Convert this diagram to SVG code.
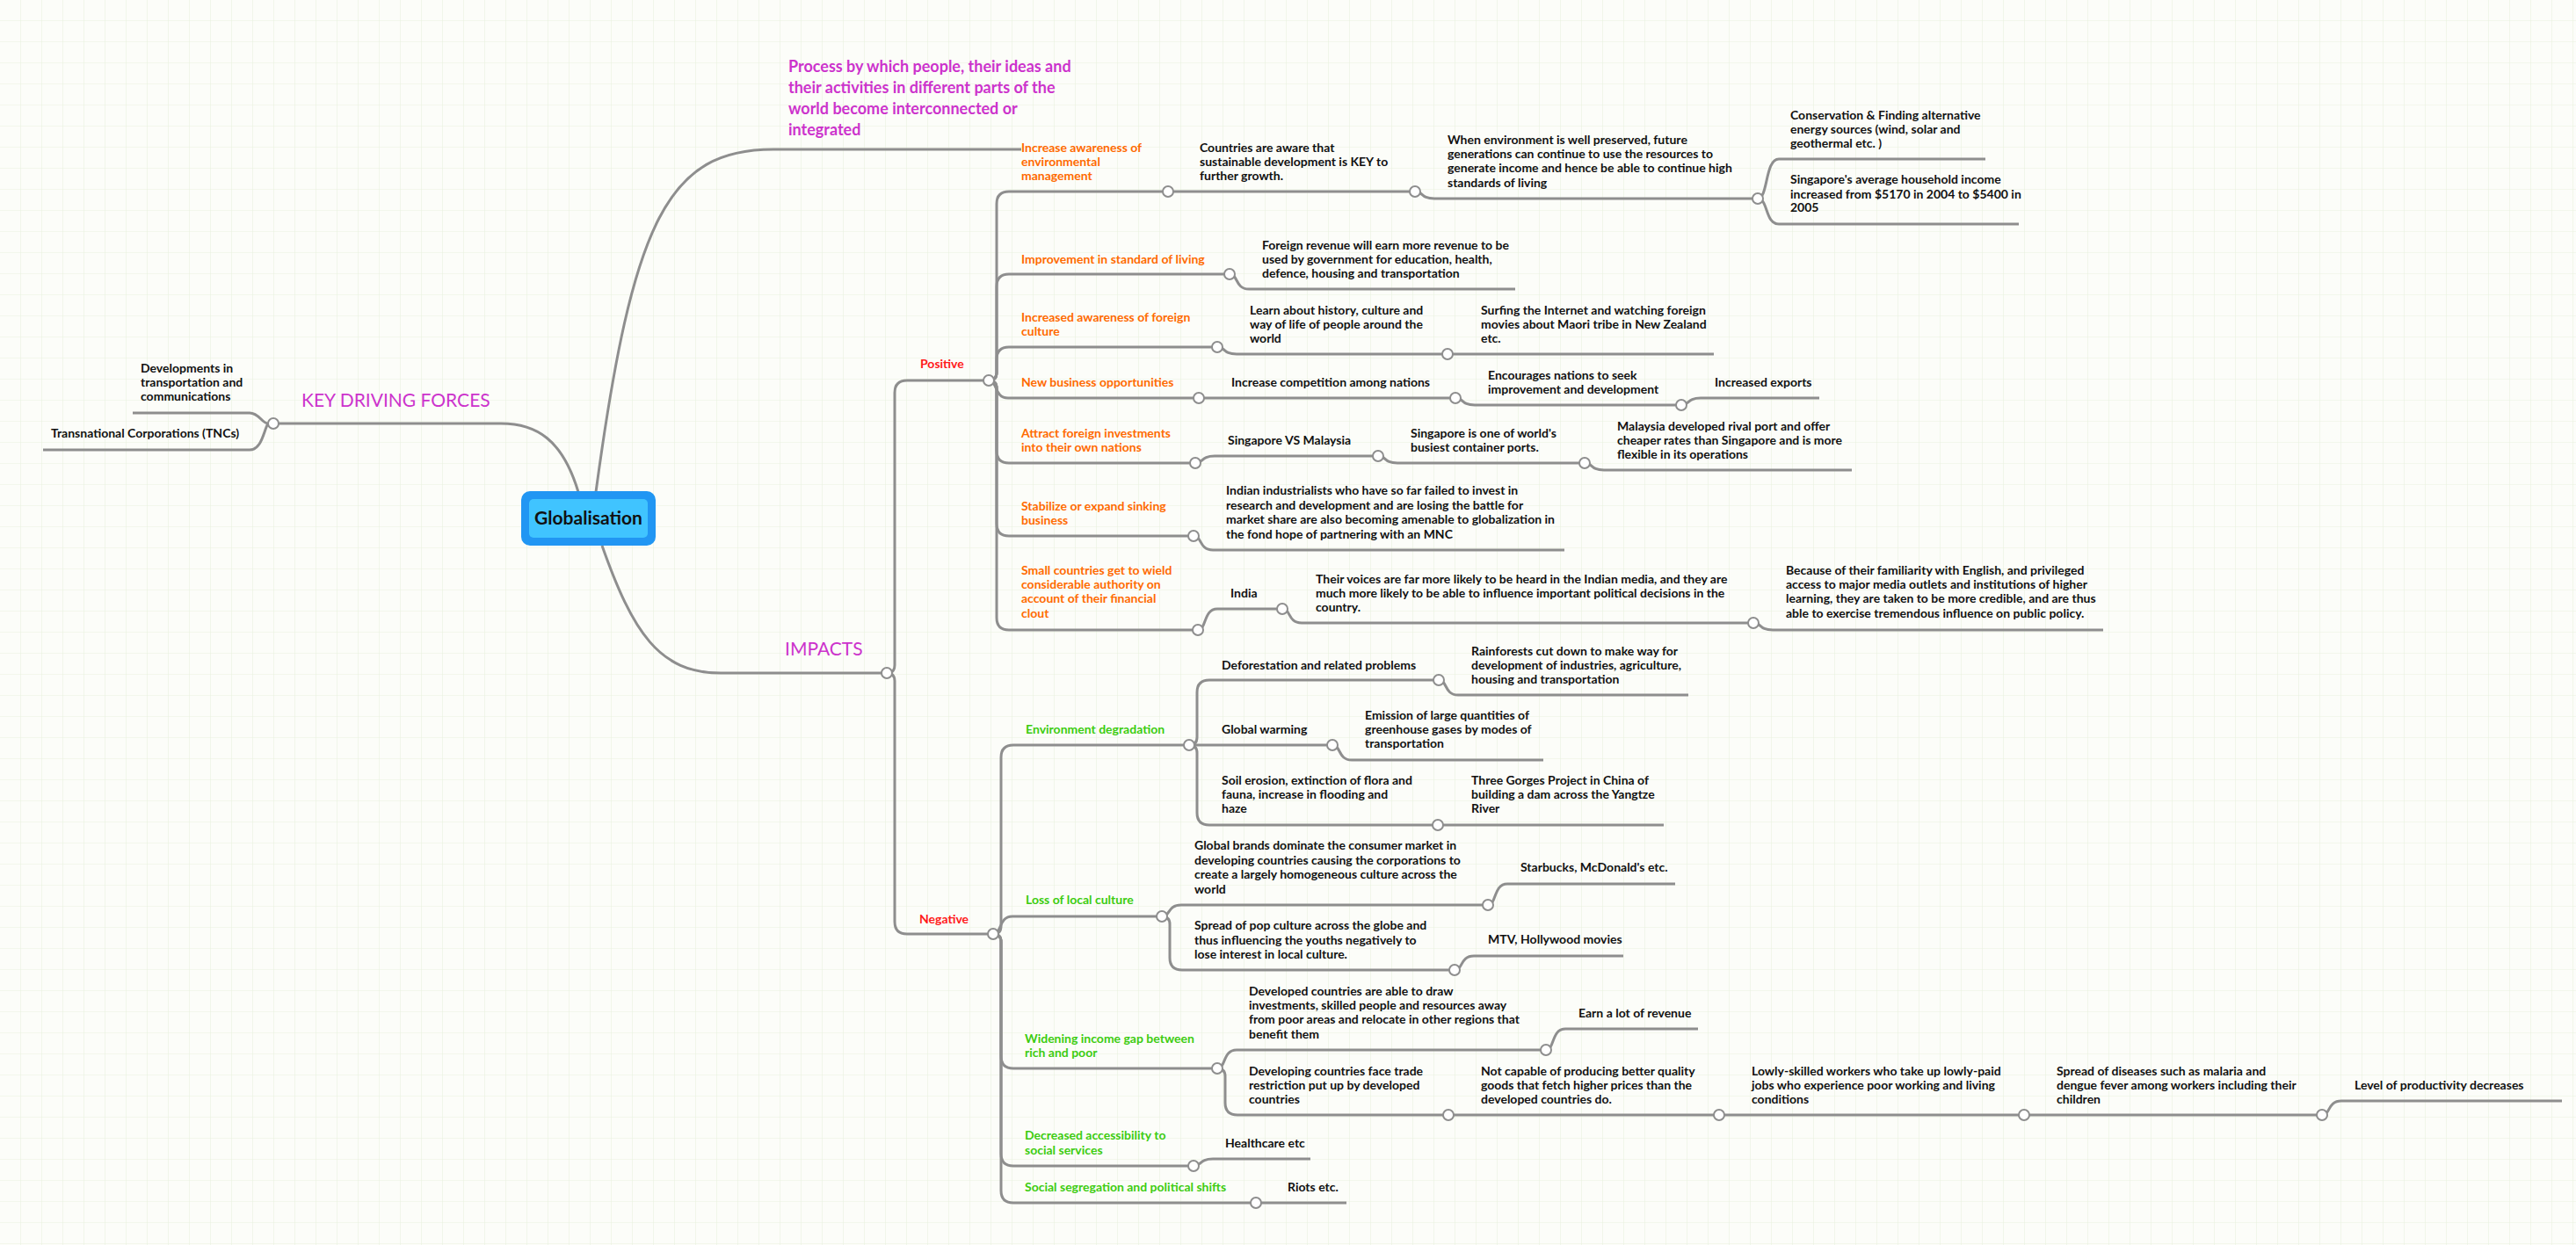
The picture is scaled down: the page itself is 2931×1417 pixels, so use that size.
<svg xmlns="http://www.w3.org/2000/svg" width="2931" height="1417" viewBox="0 0 2931 1417">
<style>
.e{fill:none;stroke:#8e8e8e;stroke-width:3}
.c{fill:#fff;stroke:#8e8e8e;stroke-width:2}
text{font-family:Lato,"Liberation Sans",sans-serif;font-weight:bold;font-size:14px;fill:#111}
.o{fill:#ff6a00}.g{fill:#3ccc10}.r{fill:#ff1a1a}
.p{fill:#cc33cc;font-weight:normal;font-size:21px}
.pt{fill:#cc33cc;font-size:18px}
.root{font-size:21px}
</style>
<defs>
<pattern id="grid" width="24" height="24" patternUnits="userSpaceOnUse">
<path d="M24 0V24H0" fill="none" stroke="#e9f2df" stroke-width="1.2"/>
</pattern>
</defs>
<rect width="2931" height="1417" fill="#fcfdf9"/>
<rect width="2931" height="1417" fill="url(#grid)"/>
<g id="connectors">
<path class="e" d="M678 560 C720 250 760 170 880 170 L1162 170"/>
<path class="e" d="M658 560 C640 500 610 482 570 482 L311 482"/>
<path class="e" d="M305 482 C298 482 295 470 284 470 L151 470"/>
<path class="e" d="M305 482 C300 490 298 512 284 512 L49 512"/>
<path class="e" d="M685 621 C720 720 750 766 820 766 L1009 766"/>
<path class="e" d="M1009 766 Q1018 766 1018 757 L1018 447 Q1018 433 1032 433 L1125 433"/>
<path class="e" d="M1009 766 Q1018 766 1018 775 L1018 1049 Q1018 1063 1032 1063 L1130 1063"/>
<path class="e" d="M1125 433 Q1134 433 1134 424 L1134 232 Q1134 218 1148 218 L1329 218"/>
<path class="e" d="M1125 433 Q1134 433 1134 424 L1134 326 Q1134 312 1148 312 L1399 312"/>
<path class="e" d="M1125 433 Q1134 433 1134 424 L1134 409 Q1134 395 1148 395 L1385 395"/>
<path class="e" d="M1125 433 C1135 433 1131 453 1147 453 L1364 453"/>
<path class="e" d="M1125 433 Q1134 433 1134 442 L1134 513 Q1134 527 1148 527 L1360 527"/>
<path class="e" d="M1125 433 Q1134 433 1134 442 L1134 596 Q1134 610 1148 610 L1358 610"/>
<path class="e" d="M1125 433 Q1134 433 1134 442 L1134 703 Q1134 717 1148 717 L1363 717"/>
<path class="e" d="M1329 218 L1610 218"/>
<path class="e" d="M1610 218 C1620 218 1616 226 1632 226 L2000 226"/>
<path class="e" d="M2000 226 C2012 226 2008 181 2024 181 L2259 181"/>
<path class="e" d="M2000 226 C2012 226 2008 255 2024 255 L2297 255"/>
<path class="e" d="M1399 312 C1409 312 1405 329 1421 329 L1724 329"/>
<path class="e" d="M1385 395 C1395 395 1391 403 1407 403 L1647 403"/>
<path class="e" d="M1647 403 L1950 403"/>
<path class="e" d="M1364 453 L1656 453"/>
<path class="e" d="M1656 453 C1666 453 1662 461 1678 461 L1913 461"/>
<path class="e" d="M1913 461 C1923 461 1919 453 1935 453 L2070 453"/>
<path class="e" d="M1360 527 C1370 527 1366 519 1382 519 L1568 519"/>
<path class="e" d="M1568 519 C1578 519 1574 527 1590 527 L1803 527"/>
<path class="e" d="M1803 527 C1813 527 1809 535 1825 535 L2107 535"/>
<path class="e" d="M1358 610 C1368 610 1364 626 1380 626 L1780 626"/>
<path class="e" d="M1363 717 C1373 717 1369 693 1385 693 L1459 693"/>
<path class="e" d="M1459 693 C1469 693 1465 709 1481 709 L1995 709"/>
<path class="e" d="M1995 709 C2005 709 2001 717 2017 717 L2393 717"/>
<path class="e" d="M1130 1063 Q1139 1063 1139 1054 L1139 862 Q1139 848 1153 848 L1353 848"/>
<path class="e" d="M1130 1063 C1140 1063 1136 1043 1152 1043 L1322 1043"/>
<path class="e" d="M1130 1063 Q1139 1063 1139 1072 L1139 1202 Q1139 1216 1153 1216 L1385 1216"/>
<path class="e" d="M1130 1063 Q1139 1063 1139 1072 L1139 1313 Q1139 1327 1153 1327 L1358 1327"/>
<path class="e" d="M1130 1063 Q1139 1063 1139 1072 L1139 1355 Q1139 1369 1153 1369 L1429 1369"/>
<path class="e" d="M1353 848 Q1362 848 1362 839 L1362 788 Q1362 774 1376 774 L1637 774"/>
<path class="e" d="M1353 848 L1516 848"/>
<path class="e" d="M1353 848 Q1362 848 1362 857 L1362 925 Q1362 939 1376 939 L1636 939"/>
<path class="e" d="M1637 774 C1647 774 1643 791 1659 791 L1921 791"/>
<path class="e" d="M1516 848 C1526 848 1522 865 1538 865 L1756 865"/>
<path class="e" d="M1636 939 L1893 939"/>
<path class="e" d="M1322 1043 C1332 1043 1328 1030 1344 1030 L1693 1030"/>
<path class="e" d="M1322 1043 Q1331 1043 1331 1052 L1331 1090 Q1331 1104 1345 1104 L1655 1104"/>
<path class="e" d="M1693 1030 C1703 1030 1699 1006 1715 1006 L1906 1006"/>
<path class="e" d="M1655 1104 C1665 1104 1661 1088 1677 1088 L1847 1088"/>
<path class="e" d="M1385 1216 C1395 1216 1391 1195 1407 1195 L1759 1195"/>
<path class="e" d="M1385 1216 Q1394 1216 1394 1225 L1394 1255 Q1394 1269 1408 1269 L1648 1269"/>
<path class="e" d="M1759 1195 C1769 1195 1765 1171 1781 1171 L1932 1171"/>
<path class="e" d="M1648 1269 L2642 1269"/>
<path class="e" d="M2642 1269 C2652 1269 2648 1253 2664 1253 L2915 1253"/>
<path class="e" d="M1358 1327 C1368 1327 1364 1319 1380 1319 L1491 1319"/>
<path class="e" d="M1429 1369 L1532 1369"/>
<g>
<circle class="c" cx="311" cy="482" r="6"/><circle class="c" cx="1009" cy="766" r="6"/>
<circle class="c" cx="1125" cy="433" r="6"/><circle class="c" cx="1130" cy="1063" r="6"/>
<circle class="c" cx="1329" cy="218" r="6"/><circle class="c" cx="1610" cy="218" r="6"/><circle class="c" cx="2000" cy="226" r="6"/>
<circle class="c" cx="1399" cy="312" r="6"/><circle class="c" cx="1385" cy="395" r="6"/><circle class="c" cx="1647" cy="403" r="6"/>
<circle class="c" cx="1364" cy="453" r="6"/><circle class="c" cx="1656" cy="453" r="6"/><circle class="c" cx="1913" cy="461" r="6"/>
<circle class="c" cx="1360" cy="527" r="6"/><circle class="c" cx="1568" cy="519" r="6"/><circle class="c" cx="1803" cy="527" r="6"/>
<circle class="c" cx="1358" cy="610" r="6"/><circle class="c" cx="1363" cy="717" r="6"/><circle class="c" cx="1459" cy="693" r="6"/><circle class="c" cx="1995" cy="709" r="6"/>
<circle class="c" cx="1353" cy="848" r="6"/><circle class="c" cx="1637" cy="774" r="6"/><circle class="c" cx="1516" cy="848" r="6"/><circle class="c" cx="1636" cy="939" r="6"/>
<circle class="c" cx="1322" cy="1043" r="6"/><circle class="c" cx="1693" cy="1030" r="6"/><circle class="c" cx="1655" cy="1104" r="6"/>
<circle class="c" cx="1385" cy="1216" r="6"/><circle class="c" cx="1759" cy="1195" r="6"/><circle class="c" cx="1648" cy="1269" r="6"/>
<circle class="c" cx="1956" cy="1269" r="6"/><circle class="c" cx="2303" cy="1269" r="6"/><circle class="c" cx="2642" cy="1269" r="6"/>
<circle class="c" cx="1358" cy="1327" r="6"/><circle class="c" cx="1429" cy="1369" r="6"/>
</g>
</g>
<g id="root">
<rect x="593" y="559" width="153" height="62" rx="10" fill="#2196f3"/>
<rect x="602" y="568" width="135" height="44" rx="5" fill="#40c4ff"/>
<text class="root" x="669.5" y="597" text-anchor="middle">Globalisation</text>
</g>
<g id="definition"><text class="pt"><tspan x="897" y="82">Process by which people, their ideas and</tspan><tspan x="897" y="106">their activities in different parts of the</tspan><tspan x="897" y="130">world become interconnected or</tspan><tspan x="897" y="154">integrated</tspan></text></g>
<g id="forces"><text class="p" x="343" y="463">KEY DRIVING FORCES</text></g>
<g id="f1"><text><tspan x="160" y="424">Developments in</tspan><tspan x="160" y="440">transportation and</tspan><tspan x="160" y="456">communications</tspan></text></g>
<g id="f2"><text x="58" y="498">Transnational Corporations (TNCs)</text></g>
<g id="impacts"><text class="p" x="893" y="746">IMPACTS</text></g>
<g id="positive"><text class="r" x="1047" y="419">Positive</text></g>
<g id="negative"><text class="r" x="1046" y="1051">Negative</text></g>
<g id="p1"><text class="o"><tspan x="1162" y="173">Increase awareness of</tspan><tspan x="1162" y="189">environmental</tspan><tspan x="1162" y="205">management</tspan></text></g>
<g id="p1a"><text><tspan x="1365" y="173">Countries are aware that</tspan><tspan x="1365" y="189">sustainable development is KEY to</tspan><tspan x="1365" y="205">further growth.</tspan></text></g>
<g id="p1b"><text><tspan x="1647" y="164">When environment is well preserved, future</tspan><tspan x="1647" y="180">generations can continue to use the resources to</tspan><tspan x="1647" y="196">generate income and hence be able to continue high</tspan><tspan x="1647" y="213">standards of living</tspan></text></g>
<g id="p1c"><text><tspan x="2037" y="136">Conservation &amp; Finding alternative</tspan><tspan x="2037" y="152">energy sources (wind, solar and</tspan><tspan x="2037" y="168">geothermal etc. )</tspan></text></g>
<g id="p1d"><text><tspan x="2037" y="209">Singapore's average household income</tspan><tspan x="2037" y="226">increased from $5170 in 2004 to $5400 in</tspan><tspan x="2037" y="241">2005</tspan></text></g>
<g id="p2"><text class="o" x="1162" y="300">Improvement in standard of living</text></g>
<g id="p2a"><text><tspan x="1436" y="284">Foreign revenue will earn more revenue to be</tspan><tspan x="1436" y="300">used by government for education, health,</tspan><tspan x="1436" y="316">defence, housing and transportation</tspan></text></g>
<g id="p3"><text class="o"><tspan x="1162" y="366">Increased awareness of foreign</tspan><tspan x="1162" y="382">culture</tspan></text></g>
<g id="p3a"><text><tspan x="1422" y="358">Learn about history, culture and</tspan><tspan x="1422" y="374">way of life of people around the</tspan><tspan x="1422" y="390">world</tspan></text></g>
<g id="p3b"><text><tspan x="1685" y="358">Surfing the Internet  and watching foreign</tspan><tspan x="1685" y="374">movies about Maori tribe in New Zealand</tspan><tspan x="1685" y="390">etc.</tspan></text></g>
<g id="p4"><text class="o" x="1162" y="440">New business opportunities</text></g>
<g id="p4a"><text x="1401" y="440">Increase competition among nations</text></g>
<g id="p4b"><text><tspan x="1693" y="432">Encourages nations to seek</tspan><tspan x="1693" y="448">improvement and development</tspan></text></g>
<g id="p4c"><text x="1951" y="440">Increased exports</text></g>
<g id="p5"><text class="o"><tspan x="1162" y="498">Attract foreign investments</tspan><tspan x="1162" y="514">into their own nations</tspan></text></g>
<g id="p5a"><text x="1397" y="506">Singapore VS Malaysia</text></g>
<g id="p5b"><text><tspan x="1605" y="498">Singapore is one of world's</tspan><tspan x="1605" y="514">busiest container ports.</tspan></text></g>
<g id="p5c"><text><tspan x="1840" y="490">Malaysia developed rival port and offer</tspan><tspan x="1840" y="506">cheaper rates than Singapore and is more</tspan><tspan x="1840" y="522">flexible in its operations</tspan></text></g>
<g id="p6"><text class="o"><tspan x="1162" y="581">Stabilize or expand sinking</tspan><tspan x="1162" y="597">business</tspan></text></g>
<g id="p6a"><text><tspan x="1395" y="563">Indian industrialists who have so far failed to invest in</tspan><tspan x="1395" y="580">research and development and are losing the battle for</tspan><tspan x="1395" y="596">market share are also becoming amenable to globalization in</tspan><tspan x="1395" y="613">the fond hope of partnering with an MNC</tspan></text></g>
<g id="p7"><text class="o"><tspan x="1162" y="654">Small countries get to wield</tspan><tspan x="1162" y="670">considerable authority on</tspan><tspan x="1162" y="686">account of their financial</tspan><tspan x="1162" y="703">clout</tspan></text></g>
<g id="p7a"><text x="1400" y="680">India</text></g>
<g id="p7b"><text><tspan x="1497" y="664">Their voices are far more likely to be heard in the Indian media, and they are</tspan><tspan x="1497" y="680">much more likely to be able to influence important political decisions in the</tspan><tspan x="1497" y="696">country.</tspan></text></g>
<g id="p7c"><text><tspan x="2032" y="654">Because of their familiarity with English, and privileged</tspan><tspan x="2032" y="670">access to major media outlets and institutions of higher</tspan><tspan x="2032" y="686">learning, they are taken to be more credible, and are thus</tspan><tspan x="2032" y="703">able to exercise tremendous influence on public policy.</tspan></text></g>
<g id="n1"><text class="g" x="1167" y="835">Environment degradation</text></g>
<g id="n1a"><text x="1390" y="762">Deforestation and related problems</text></g>
<g id="n1a1"><text><tspan x="1674" y="746">Rainforests cut down to make way for</tspan><tspan x="1674" y="762">development of industries, agriculture,</tspan><tspan x="1674" y="778">housing and transportation</tspan></text></g>
<g id="n1b"><text x="1390" y="835">Global warming</text></g>
<g id="n1b1"><text><tspan x="1553" y="819">Emission of large quantities of</tspan><tspan x="1553" y="835">greenhouse gases by modes of</tspan><tspan x="1553" y="851">transportation</tspan></text></g>
<g id="n1c"><text><tspan x="1390" y="893">Soil erosion, extinction of flora and</tspan><tspan x="1390" y="909">fauna, increase in flooding and</tspan><tspan x="1390" y="925">haze</tspan></text></g>
<g id="n1c1"><text><tspan x="1674" y="893">Three Gorges Project in China of</tspan><tspan x="1674" y="909">building a dam across the Yangtze</tspan><tspan x="1674" y="925">River</tspan></text></g>
<g id="n2"><text class="g" x="1167" y="1029">Loss of local culture</text></g>
<g id="n2a"><text><tspan x="1359" y="967">Global brands dominate the consumer market in</tspan><tspan x="1359" y="984">developing countries causing the corporations to</tspan><tspan x="1359" y="1000">create a largely homogeneous culture across the</tspan><tspan x="1359" y="1017">world</tspan></text></g>
<g id="n2a1"><text x="1730" y="992">Starbucks, McDonald's etc.</text></g>
<g id="n2b"><text><tspan x="1359" y="1058">Spread of pop culture across the globe and</tspan><tspan x="1359" y="1075">thus influencing the youths negatively to</tspan><tspan x="1359" y="1091">lose interest in local culture.</tspan></text></g>
<g id="n2b1"><text x="1693" y="1074">MTV, Hollywood movies</text></g>
<g id="n3"><text class="g"><tspan x="1166" y="1187">Widening income gap between</tspan><tspan x="1166" y="1203">rich and poor</tspan></text></g>
<g id="n3a"><text><tspan x="1421" y="1133">Developed countries are able to draw</tspan><tspan x="1421" y="1149">investments, skilled people and resources away</tspan><tspan x="1421" y="1165">from poor areas and relocate in other regions that</tspan><tspan x="1421" y="1182">benefit them</tspan></text></g>
<g id="n3a1"><text x="1796" y="1158">Earn a lot of revenue</text></g>
<g id="n3b"><text><tspan x="1421" y="1224">Developing countries face trade</tspan><tspan x="1421" y="1240">restriction put up by developed</tspan><tspan x="1421" y="1256">countries</tspan></text></g>
<g id="n3b1"><text><tspan x="1685" y="1224">Not capable of producing better quality</tspan><tspan x="1685" y="1240">goods that fetch higher prices than the</tspan><tspan x="1685" y="1256">developed countries do.</tspan></text></g>
<g id="n3b2"><text><tspan x="1993" y="1224">Lowly-skilled workers who take up lowly-paid</tspan><tspan x="1993" y="1240">jobs who experience poor working and living</tspan><tspan x="1993" y="1256">conditions</tspan></text></g>
<g id="n3b3"><text><tspan x="2340" y="1224">Spread of diseases such as malaria and</tspan><tspan x="2340" y="1240">dengue fever among workers including their</tspan><tspan x="2340" y="1256">children</tspan></text></g>
<g id="n3b4"><text x="2679" y="1240">Level of productivity decreases</text></g>
<g id="n4"><text class="g"><tspan x="1166" y="1297">Decreased accessibility to</tspan><tspan x="1166" y="1314">social services</tspan></text></g>
<g id="n4a"><text x="1394" y="1306">Healthcare etc</text></g>
<g id="n5"><text class="g" x="1166" y="1356">Social segregation and political shifts</text></g>
<g id="n5a"><text x="1465" y="1356">Riots etc.</text></g>
</svg>
